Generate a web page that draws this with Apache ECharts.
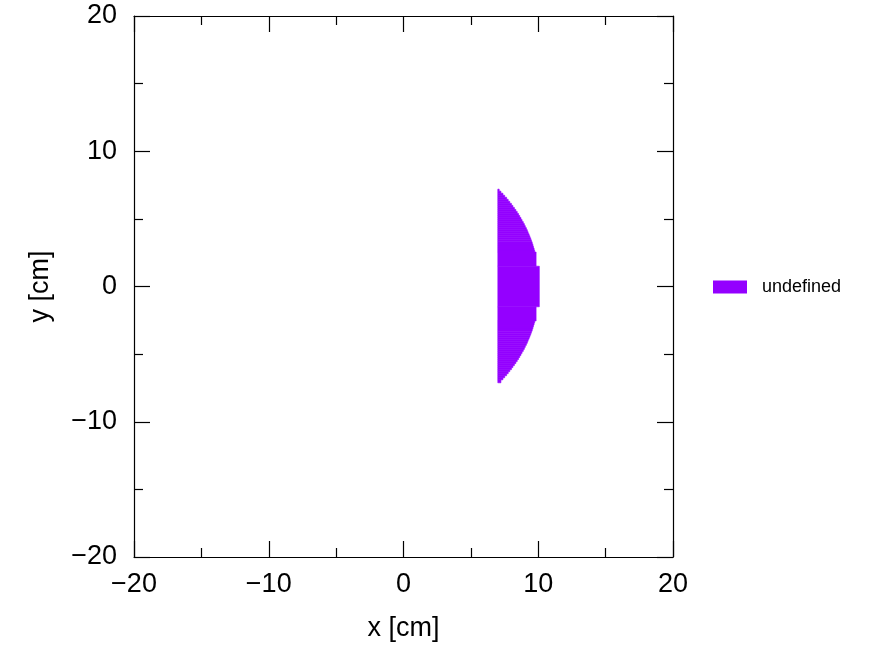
<!DOCTYPE html>
<html>
<head>
<meta charset="utf-8">
<script src="https://cdn.jsdelivr.net/npm/echarts@6/dist/echarts.min.js"></script>
<style>
html,body{margin:0;padding:0;background:#fff;}
#chart{width:885px;height:651px;}
</style>
</head>
<body>
<div id="chart"></div>
<script>
// ---- data ----
const seriesName = 'undefined';
const segmentLeft = 7.0;            // left (flat) edge of the segment, cm
// each row of the stepped segment: lower y, upper y, right x (cm)
const rowLow = [
  7.05, 6.90, 6.75, 6.60, 6.45, 6.30, 6.15, 6.00, 5.85, 5.70, 5.55,
  5.40, 5.25, 5.10, 4.95, 4.80, 4.65, 4.50, 4.35, 4.20, 4.05, 3.90,
  3.75, 3.60, 3.45, 3.30, 3.15, 3.00, 2.85, 2.70, 2.55, 1.50,
  -1.50,
  -2.55, -2.70, -2.85, -3.00, -3.15, -3.30, -3.45, -3.60, -3.75, -3.90,
  -4.05, -4.20, -4.35, -4.50, -4.65, -4.80, -4.95, -5.10, -5.25, -5.40,
  -5.55, -5.70, -5.85, -6.00, -6.15, -6.30, -6.45, -6.60, -6.75, -6.90,
  -7.12
];
const rowHigh = [
  7.20, 7.05, 6.90, 6.75, 6.60, 6.45, 6.30, 6.15, 6.00, 5.85, 5.70,
  5.55, 5.40, 5.25, 5.10, 4.95, 4.80, 4.65, 4.50, 4.35, 4.20, 4.05,
  3.90, 3.75, 3.60, 3.45, 3.30, 3.15, 3.00, 2.85, 2.70, 2.55,
  1.50,
  -1.50, -2.55, -2.70, -2.85, -3.00, -3.15, -3.30, -3.45, -3.60, -3.75,
  -3.90, -4.05, -4.20, -4.35, -4.50, -4.65, -4.80, -4.95, -5.10, -5.25,
  -5.40, -5.55, -5.70, -5.85, -6.00, -6.15, -6.30, -6.45, -6.60, -6.75,
  -6.90
];
const rowRight = [
  7.10, 7.23, 7.38, 7.51, 7.65, 7.77, 7.89, 8.01, 8.12, 8.23, 8.34,
  8.44, 8.54, 8.63, 8.72, 8.80, 8.89, 8.97, 9.04, 9.12, 9.19, 9.25,
  9.32, 9.38, 9.44, 9.49, 9.55, 9.60, 9.64, 9.69, 9.73, 9.84,
  10.08,
  9.84, 9.73, 9.69, 9.64, 9.60, 9.55, 9.49, 9.44, 9.38, 9.32, 9.25,
  9.19, 9.12, 9.04, 8.97, 8.89, 8.80, 8.72, 8.63, 8.54, 8.44, 8.34,
  8.23, 8.12, 8.01, 7.89, 7.77, 7.65, 7.51, 7.38, 7.23,
  7.10
];
const axisMin = -20, axisMax = 20, axisStep = 10;
const xTitle = 'x [cm]';
const yTitle = 'y [cm]';

// ---- chart ----
const fillColor = '#9400ff';
const FONT = '"Liberation Sans", Arial, Helvetica, sans-serif';
const rows = rowLow.map((lo, i) => [segmentLeft, rowRight[i], lo, rowHigh[i]]);

function fmt(v) {
  return v < 0 ? '\u2212' + Math.abs(v) : String(v);
}

function makeAxis(isX, primary) {
  const ax = {
    type: 'value',
    min: axisMin, max: axisMax, interval: axisStep,
    axisLine: { show: true, onZero: false, lineStyle: { color: '#000', width: 1.2 } },
    axisTick: { show: true, inside: true, length: 16, lineStyle: { color: '#000', width: 1.2 } },
    minorTick: { show: true, splitNumber: 2, length: 9, lineStyle: { color: '#000', width: 1.2 } },
    splitLine: { show: false },
    minorSplitLine: { show: false },
    axisLabel: {
      show: primary,
      formatter: fmt,
      color: '#000',
      fontFamily: FONT,
      fontSize: 27,
      margin: isX ? 14 : 17,
      padding: isX ? 0 : [3, 0, 0, 0]
    }
  };
  if (isX) {
    ax.position = primary ? 'bottom' : 'top';
  } else {
    ax.position = primary ? 'left' : 'right';
  }
  if (primary) {
    ax.name = isX ? xTitle : yTitle;
    ax.nameLocation = 'middle';
    ax.nameGap = isX ? 58 : 80;
    ax.nameTextStyle = { color: '#000', fontFamily: FONT, fontSize: 27 };
  }
  return ax;
}

const chart = echarts.init(document.getElementById('chart'), null, { renderer: 'canvas' });
chart.setOption({
  animation: false,
  backgroundColor: '#fff',
  grid: { left: 134, right: 212, top: 16, bottom: 94, containLabel: false },
  xAxis: [makeAxis(true, true), makeAxis(true, false)],
  yAxis: [makeAxis(false, true), makeAxis(false, false)],
  legend: {
    show: true,
    orient: 'vertical',
    left: 713,
    top: 278,
    padding: 0,
    itemWidth: 34,
    itemHeight: 13,
    data: [{ name: seriesName, icon: 'rect' }],
    textStyle: { color: '#000', fontFamily: FONT, fontSize: 18, padding: [0, 0, 0, 10] }
  },
  series: [{
    name: seriesName,
    type: 'custom',
    xAxisIndex: 0,
    yAxisIndex: 0,
    itemStyle: { color: fillColor },
    encode: { x: [0, 1], y: [2, 3] },
    data: rows,
    renderItem: function (params, api) {
      const p1 = api.coord([api.value(0), api.value(3)]);
      const p2 = api.coord([api.value(1), api.value(2)]);
      return {
        type: 'rect',
        shape: { x: p1[0], y: p1[1], width: p2[0] - p1[0], height: p2[1] - p1[1] },
        style: { fill: fillColor, stroke: fillColor, lineWidth: 0.6 }
      };
    }
  }]
});
</script>
</body>
</html>
